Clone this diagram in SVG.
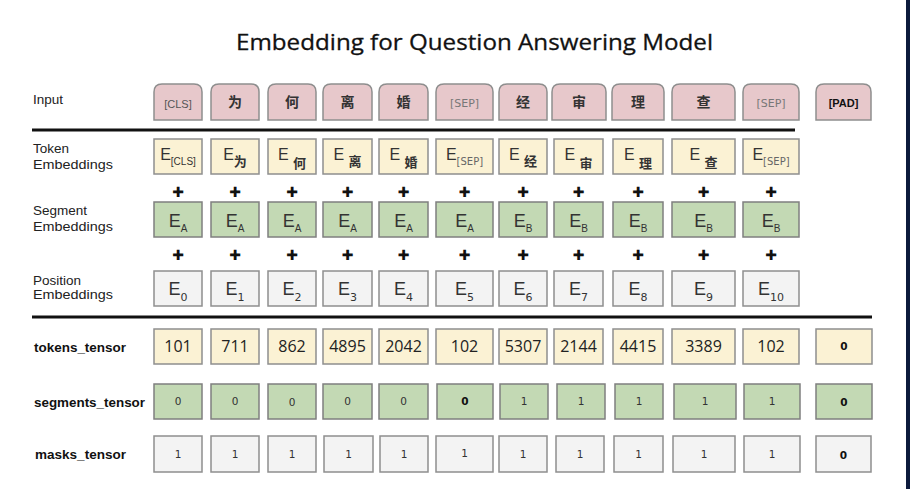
<svg xmlns="http://www.w3.org/2000/svg" width="910" height="489" viewBox="0 0 910 489">
<style>
.title{font-family:"Open Sans","Liberation Sans",sans-serif;font-size:22px;font-weight:500;fill:#111;text-anchor:middle;stroke:#111;stroke-width:0.3}
.lbl{font-family:"Liberation Sans",Arial,sans-serif;font-size:13.5px;fill:#222}
.tl{font-family:"Liberation Sans",Arial,sans-serif;font-size:12px;font-weight:bold;fill:#111}
.inp{fill:#e7c8cb;stroke:#8e8e8e;stroke-width:1.5}
.tok{fill:#fbf2d4;stroke:#8e8e8e;stroke-width:1.5}
.seg{fill:#c3d9b4;stroke:#7f7f7f;stroke-width:1.5}
.pos{fill:#f3f3f3;stroke:#8e8e8e;stroke-width:1.5}
.it{font-family:"Liberation Sans",Arial,sans-serif;font-size:11px;fill:#555;text-anchor:middle}
.isep{font-family:"DejaVu Sans",sans-serif;font-size:11px;fill:#777;text-anchor:middle}
.ipad{font-family:"Liberation Sans",Arial,sans-serif;font-size:11px;font-weight:bold;fill:#111;text-anchor:middle}
.icjk{font-family:"Noto Sans CJK SC",sans-serif;font-size:14px;font-weight:bold;fill:#333;text-anchor:middle}
.e{font-family:"Liberation Sans",Arial,sans-serif;font-size:16px;fill:#333;text-anchor:middle}
.eb{font-family:"Liberation Sans",Arial,sans-serif;font-size:18px;fill:#333;text-anchor:middle}
.sub{font-size:10px}
.subsep{font-family:"DejaVu Sans",sans-serif;font-size:10px;fill:#666}
.subc{font-family:"Noto Sans CJK SC",sans-serif;font-size:13px;font-weight:bold;fill:#333}
.subd{font-family:"DejaVu Sans",sans-serif;font-size:11px}
.plus{font-family:"DejaVu Sans",sans-serif;font-size:14px;fill:#111;text-anchor:middle}
.num{font-family:"Open Sans","Noto Sans",sans-serif;font-size:16px;fill:#222;text-anchor:middle}
.sm{font-family:"DejaVu Sans",sans-serif;font-size:10.5px;fill:#333;text-anchor:middle}
.smb{font-family:"DejaVu Sans",sans-serif;font-size:10.5px;font-weight:bold;fill:#111;text-anchor:middle}
.sep{stroke:#111;stroke-width:3}
</style>
<rect width="910" height="489" fill="#fff"/>
<rect x="906" y="0" width="4" height="489" fill="#0c1a3c"/>
<text class="title" x="474.5" y="50" textLength="477" lengthAdjust="spacingAndGlyphs">Embedding for Question Answering Model</text>

<g id="labels">
<text class="lbl" x="33" y="104">Input</text>
<text class="lbl" x="33" y="153">Token</text>
<text class="lbl" x="33" y="169" textLength="80" lengthAdjust="spacingAndGlyphs">Embeddings</text>
<text class="lbl" x="33" y="215">Segment</text>
<text class="lbl" x="33" y="231" textLength="80" lengthAdjust="spacingAndGlyphs">Embeddings</text>
<text class="lbl" x="33" y="285">Position</text>
<text class="lbl" x="33" y="299" textLength="80" lengthAdjust="spacingAndGlyphs">Embeddings</text>
<text class="tl" x="34" y="352" textLength="92" lengthAdjust="spacingAndGlyphs">tokens_tensor</text>
<text class="tl" x="34" y="407" textLength="111" lengthAdjust="spacingAndGlyphs">segments_tensor</text>
<text class="tl" x="35" y="459" textLength="91" lengthAdjust="spacingAndGlyphs">masks_tensor</text>
</g>

<g id="separators">
<line class="sep" x1="32" y1="130" x2="795" y2="130"/>
<line class="sep" x1="32" y1="317" x2="872" y2="317"/>
</g>

<g id="connectors"></g>

<!-- Input row -->
<g id="input-1"><path class="inp" d="M154 120V92Q154 84 162 84H194Q202 84 202 92V120Z"/><text class="it" x="178" y="108">[CLS]</text></g>
<g id="input-2"><path class="inp" d="M211 120V92Q211 84 219 84H251Q259 84 259 92V120Z"/><text class="icjk" x="235" y="107">为</text></g>
<g id="input-3"><path class="inp" d="M268 120V92Q268 84 276 84H308Q316 84 316 92V120Z"/><text class="icjk" x="292" y="107">何</text></g>
<g id="input-4"><path class="inp" d="M323 120V92Q323 84 331 84H364Q372 84 372 92V120Z"/><text class="icjk" x="347.5" y="107">离</text></g>
<g id="input-5"><path class="inp" d="M379 120V92Q379 84 387 84H420Q428 84 428 92V120Z"/><text class="icjk" x="403.5" y="107">婚</text></g>
<g id="input-6"><path class="inp" d="M436 120V92Q436 84 444 84H485Q493 84 493 92V120Z"/><text class="isep" x="464.5" y="107">[SEP]</text></g>
<g id="input-7"><path class="inp" d="M499 120V92Q499 84 507 84H539Q547 84 547 92V120Z"/><text class="icjk" x="523" y="107">经</text></g>
<g id="input-8"><path class="inp" d="M552 120V92Q552 84 560 84H598Q606 84 606 92V120Z"/><text class="icjk" x="579" y="107">审</text></g>
<g id="input-9"><path class="inp" d="M612 120V92Q612 84 620 84H656Q664 84 664 92V120Z"/><text class="icjk" x="638" y="107">理</text></g>
<g id="input-10"><path class="inp" d="M672 120V92Q672 84 680 84H727Q735 84 735 92V120Z"/><text class="icjk" x="703.5" y="107">查</text></g>
<g id="input-11"><path class="inp" d="M743 120V92Q743 84 751 84H791Q799 84 799 92V120Z"/><text class="isep" x="771" y="107">[SEP]</text></g>
<g id="input-12"><path class="inp" d="M816 120V92Q816 84 824 84H863Q871 84 871 92V120Z"/><text class="ipad" x="843.5" y="107">[PAD]</text></g>

<!-- Token embeddings -->
<g id="tok-1"><rect class="tok" x="154" y="139" width="48" height="35"/><text class="e" x="178" y="160">E<tspan class="sub" dy="5">[CLS]</tspan></text></g>
<g id="tok-2"><rect class="tok" x="211" y="139" width="48" height="35"/><text class="e" x="235" y="160">E<tspan class="subc" dy="6">为</tspan></text></g>
<g id="tok-3"><rect class="tok" x="268" y="139" width="48" height="35"/><text class="e" x="292" y="160">E <tspan class="subc" dy="8">何</tspan></text></g>
<g id="tok-4"><rect class="tok" x="323" y="139" width="49" height="35"/><text class="e" x="347.5" y="160">E <tspan class="subc" dy="6">离</tspan></text></g>
<g id="tok-5"><rect class="tok" x="379" y="139" width="49" height="35"/><text class="e" x="403.5" y="160">E <tspan class="subc" dy="7">婚</tspan></text></g>
<g id="tok-6"><rect class="tok" x="436" y="139" width="57" height="35"/><text class="e" x="464.5" y="160">E<tspan class="subsep" dy="5">[SEP]</tspan></text></g>
<g id="tok-7"><rect class="tok" x="499" y="139" width="48" height="35"/><text class="e" x="523" y="160">E <tspan class="subc" dy="6">经</tspan></text></g>
<g id="tok-8"><rect class="tok" x="554" y="139" width="49" height="35"/><text class="e" x="578.5" y="160">E <tspan class="subc" dy="8">审</tspan></text></g>
<g id="tok-9"><rect class="tok" x="613" y="139" width="50" height="35"/><text class="e" x="638" y="160">E <tspan class="subc" dy="8">理</tspan></text></g>
<g id="tok-10"><rect class="tok" x="672" y="139" width="63" height="35"/><text class="e" x="703.5" y="160">E <tspan class="subc" dy="7">查</tspan></text></g>
<g id="tok-11"><rect class="tok" x="743" y="139" width="56" height="35"/><text class="e" x="771" y="160">E<tspan class="subsep" dy="5">[SEP]</tspan></text></g>

<!-- plus signs -->
<g id="plus">
<text class="plus" x="178" y="197">✚</text><text class="plus" x="235" y="197">✚</text><text class="plus" x="292" y="197">✚</text><text class="plus" x="347.5" y="197">✚</text><text class="plus" x="403.5" y="197">✚</text><text class="plus" x="464.5" y="197">✚</text><text class="plus" x="523" y="197">✚</text><text class="plus" x="578.5" y="197">✚</text><text class="plus" x="638" y="197">✚</text><text class="plus" x="703.5" y="197">✚</text><text class="plus" x="771" y="197">✚</text>
<text class="plus" x="178" y="260">✚</text><text class="plus" x="235" y="260">✚</text><text class="plus" x="292" y="260">✚</text><text class="plus" x="347.5" y="260">✚</text><text class="plus" x="403.5" y="260">✚</text><text class="plus" x="464.5" y="260">✚</text><text class="plus" x="523" y="260">✚</text><text class="plus" x="578.5" y="260">✚</text><text class="plus" x="638" y="260">✚</text><text class="plus" x="703.5" y="260">✚</text><text class="plus" x="771" y="260">✚</text>
</g>

<!-- Segment embeddings -->
<g id="seg-1"><rect class="seg" x="154" y="202" width="48" height="35"/><text class="eb" x="178" y="227">E<tspan class="sub" dy="5">A</tspan></text></g>
<g id="seg-2"><rect class="seg" x="211" y="202" width="48" height="35"/><text class="eb" x="235" y="227">E<tspan class="sub" dy="5">A</tspan></text></g>
<g id="seg-3"><rect class="seg" x="268" y="202" width="48" height="35"/><text class="eb" x="292" y="227">E<tspan class="sub" dy="5">A</tspan></text></g>
<g id="seg-4"><rect class="seg" x="323" y="202" width="49" height="35"/><text class="eb" x="347.5" y="227">E<tspan class="sub" dy="5">A</tspan></text></g>
<g id="seg-5"><rect class="seg" x="379" y="202" width="49" height="35"/><text class="eb" x="403.5" y="227">E<tspan class="sub" dy="5">A</tspan></text></g>
<g id="seg-6"><rect class="seg" x="436" y="202" width="57" height="35"/><text class="eb" x="464.5" y="227">E<tspan class="sub" dy="5">A</tspan></text></g>
<g id="seg-7"><rect class="seg" x="499" y="202" width="48" height="35"/><text class="eb" x="523" y="227">E<tspan class="sub" dy="5">B</tspan></text></g>
<g id="seg-8"><rect class="seg" x="554" y="202" width="49" height="35"/><text class="eb" x="578.5" y="227">E<tspan class="sub" dy="5">B</tspan></text></g>
<g id="seg-9"><rect class="seg" x="613" y="202" width="50" height="35"/><text class="eb" x="638" y="227">E<tspan class="sub" dy="5">B</tspan></text></g>
<g id="seg-10"><rect class="seg" x="672" y="202" width="63" height="35"/><text class="eb" x="703.5" y="227">E<tspan class="sub" dy="5">B</tspan></text></g>
<g id="seg-11"><rect class="seg" x="743" y="202" width="56" height="35"/><text class="eb" x="771" y="227">E<tspan class="sub" dy="5">B</tspan></text></g>

<!-- Position embeddings -->
<g id="pos-1"><rect class="pos" x="154" y="271" width="48" height="35"/><text class="eb" x="178" y="295">E<tspan class="subd" dy="6">0</tspan></text></g>
<g id="pos-2"><rect class="pos" x="211" y="271" width="48" height="35"/><text class="eb" x="235" y="295">E<tspan class="subd" dy="6">1</tspan></text></g>
<g id="pos-3"><rect class="pos" x="268" y="271" width="48" height="35"/><text class="eb" x="292" y="295">E<tspan class="subd" dy="6">2</tspan></text></g>
<g id="pos-4"><rect class="pos" x="323" y="271" width="49" height="35"/><text class="eb" x="347.5" y="295">E<tspan class="subd" dy="6">3</tspan></text></g>
<g id="pos-5"><rect class="pos" x="379" y="271" width="49" height="35"/><text class="eb" x="403.5" y="295">E<tspan class="subd" dy="6">4</tspan></text></g>
<g id="pos-6"><rect class="pos" x="436" y="271" width="57" height="35"/><text class="eb" x="464.5" y="295">E<tspan class="subd" dy="6">5</tspan></text></g>
<g id="pos-7"><rect class="pos" x="499" y="271" width="48" height="35"/><text class="eb" x="523" y="295">E<tspan class="subd" dy="6">6</tspan></text></g>
<g id="pos-8"><rect class="pos" x="554" y="271" width="49" height="35"/><text class="eb" x="578.5" y="295">E<tspan class="subd" dy="6">7</tspan></text></g>
<g id="pos-9"><rect class="pos" x="613" y="271" width="50" height="35"/><text class="eb" x="638" y="295">E<tspan class="subd" dy="6">8</tspan></text></g>
<g id="pos-10"><rect class="pos" x="672" y="271" width="63" height="35"/><text class="eb" x="703.5" y="295">E<tspan class="subd" dy="6">9</tspan></text></g>
<g id="pos-11"><rect class="pos" x="743" y="271" width="56" height="35"/><text class="eb" x="771" y="295">E<tspan class="subd" dy="6">10</tspan></text></g>

<!-- tokens_tensor -->
<g id="tt-1"><rect class="tok" x="154" y="329" width="48" height="35"/><text class="num" x="178" y="352">101</text></g>
<g id="tt-2"><rect class="tok" x="211" y="329" width="48" height="35"/><text class="num" x="235" y="352">711</text></g>
<g id="tt-3"><rect class="tok" x="268" y="329" width="48" height="35"/><text class="num" x="292" y="352">862</text></g>
<g id="tt-4"><rect class="tok" x="323" y="329" width="49" height="35"/><text class="num" x="347.5" y="352">4895</text></g>
<g id="tt-5"><rect class="tok" x="379" y="329" width="49" height="35"/><text class="num" x="403.5" y="352">2042</text></g>
<g id="tt-6"><rect class="tok" x="436" y="329" width="57" height="35"/><text class="num" x="464.5" y="352">102</text></g>
<g id="tt-7"><rect class="tok" x="499" y="329" width="48" height="35"/><text class="num" x="523" y="352">5307</text></g>
<g id="tt-8"><rect class="tok" x="554" y="329" width="49" height="35"/><text class="num" x="578.5" y="352">2144</text></g>
<g id="tt-9"><rect class="tok" x="613" y="329" width="50" height="35"/><text class="num" x="638" y="352">4415</text></g>
<g id="tt-10"><rect class="tok" x="672" y="329" width="63" height="35"/><text class="num" x="703.5" y="352">3389</text></g>
<g id="tt-11"><rect class="tok" x="743" y="329" width="56" height="35"/><text class="num" x="771" y="352">102</text></g>
<g id="tt-12"><rect class="tok" x="816" y="329" width="56" height="35"/><text class="smb" x="844" y="350">0</text></g>

<!-- segments_tensor -->
<g id="st-1"><rect class="seg" x="154" y="384" width="48" height="35"/><text class="sm" x="178" y="405">0</text></g>
<g id="st-2"><rect class="seg" x="211" y="384" width="48" height="35"/><text class="sm" x="235" y="405">0</text></g>
<g id="st-3"><rect class="seg" x="268" y="384" width="48" height="35"/><text class="sm" x="292" y="406">0</text></g>
<g id="st-4"><rect class="seg" x="323" y="384" width="49" height="35"/><text class="sm" x="347.5" y="405">0</text></g>
<g id="st-5"><rect class="seg" x="379" y="384" width="49" height="35"/><text class="sm" x="403.5" y="405">0</text></g>
<g id="st-6"><rect class="seg" x="437" y="384" width="56" height="35"/><text class="smb" x="465" y="405">0</text></g>
<g id="st-7"><rect class="seg" x="500" y="384" width="48" height="35"/><text class="sm" x="524" y="405">1</text></g>
<g id="st-8"><rect class="seg" x="557" y="384" width="48" height="35"/><text class="sm" x="581" y="405">1</text></g>
<g id="st-9"><rect class="seg" x="615" y="384" width="48" height="35"/><text class="sm" x="639" y="405">1</text></g>
<g id="st-10"><rect class="seg" x="674" y="384" width="62" height="35"/><text class="sm" x="705" y="405">1</text></g>
<g id="st-11"><rect class="seg" x="744" y="384" width="56" height="35"/><text class="sm" x="772" y="405">1</text></g>
<g id="st-12"><rect class="seg" x="816" y="384" width="56" height="35"/><text class="smb" x="844" y="406">0</text></g>

<!-- masks_tensor -->
<g id="mt-1"><rect class="pos" x="154" y="436" width="48" height="36"/><text class="sm" x="178" y="458">1</text></g>
<g id="mt-2"><rect class="pos" x="211" y="436" width="48" height="36"/><text class="sm" x="235" y="458">1</text></g>
<g id="mt-3"><rect class="pos" x="268" y="436" width="48" height="36"/><text class="sm" x="292" y="458">1</text></g>
<g id="mt-4"><rect class="pos" x="324" y="436" width="49" height="36"/><text class="sm" x="348.5" y="458">1</text></g>
<g id="mt-5"><rect class="pos" x="380" y="436" width="48" height="36"/><text class="sm" x="404" y="458">1</text></g>
<g id="mt-6"><rect class="pos" x="436" y="436" width="57" height="36"/><text class="sm" x="464.5" y="457">1</text></g>
<g id="mt-7"><rect class="pos" x="499" y="436" width="48" height="36"/><text class="sm" x="523" y="458">1</text></g>
<g id="mt-8"><rect class="pos" x="556" y="436" width="48" height="36"/><text class="sm" x="580" y="458">1</text></g>
<g id="mt-9"><rect class="pos" x="614" y="436" width="49" height="36"/><text class="sm" x="638.5" y="458">1</text></g>
<g id="mt-10"><rect class="pos" x="673" y="436" width="62" height="36"/><text class="sm" x="704" y="458">1</text></g>
<g id="mt-11"><rect class="pos" x="744" y="436" width="56" height="36"/><text class="sm" x="772" y="458">1</text></g>
<g id="mt-12"><rect class="pos" x="816" y="436" width="55" height="36"/><text class="smb" x="843.5" y="459">0</text></g>
</svg>
